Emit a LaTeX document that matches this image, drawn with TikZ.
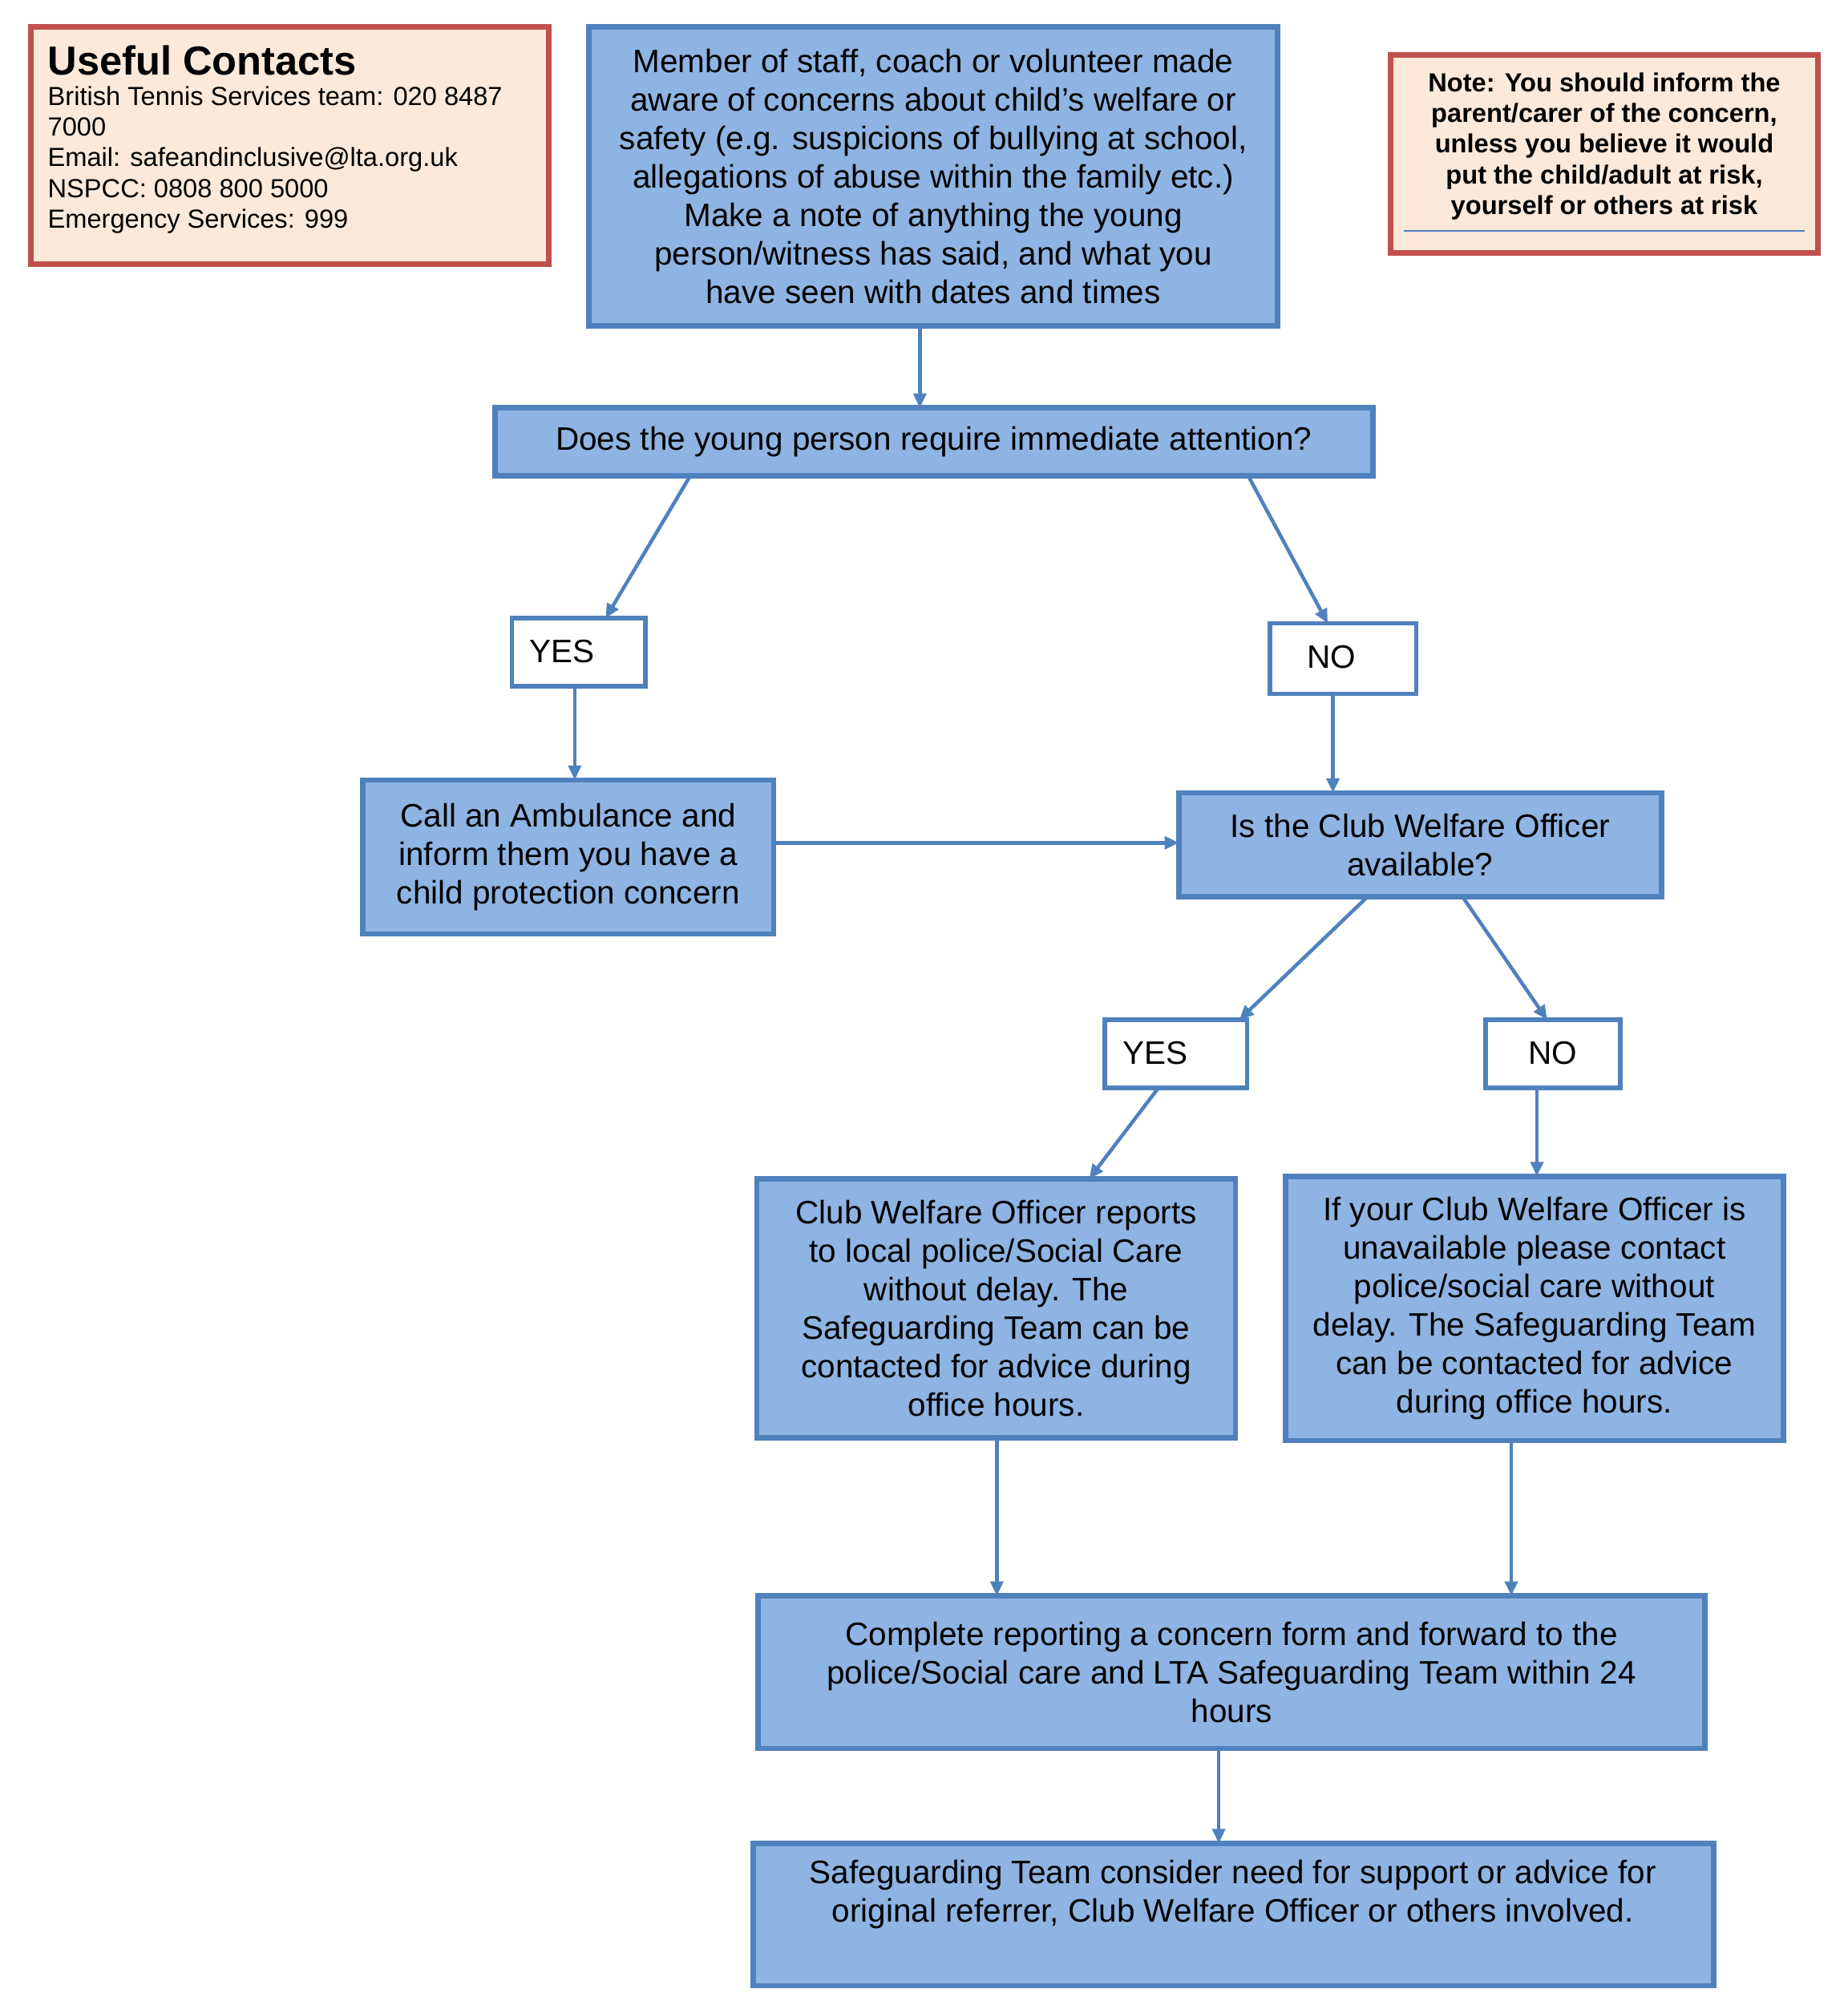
\documentclass[tikz,border=0pt]{standalone}
\usepackage{fontspec}
\setmainfont{Liberation Sans}
\usetikzlibrary{arrows.meta}
\definecolor{bfill}{HTML}{8EB4E3}
\definecolor{bline}{HTML}{4F81BD}
\definecolor{pfill}{HTML}{FDE9D9}
\definecolor{rline}{HTML}{C0504D}
\begin{document}
\begin{tikzpicture}[x=0.025cm,y=0.025cm,
 box/.style={draw=bline,fill=bfill,line width=3pt,align=center,inner sep=0pt,
   font=\fontsize{18}{21.3}\selectfont},
 lab/.style={draw=bline,fill=white,line width=2.5pt,inner sep=0pt,
   font=\fontsize{18}{21.3}\selectfont},
 arr/.style={draw=bline,line width=2pt,-{Triangle[length=8pt,width=7pt]}}]
\useasboundingbox (0,0) rectangle (1440,-1563);
\newcommand{\bx}[7]{\node[#1,minimum width={(#4-#3)*0.025cm},minimum height={(#6-#5)*0.025cm}] (#2) at ({(#3+#4)/2},{-(#5+#6)/2}) {#7};}
% Useful contacts
\node[draw=rline,fill=pfill,line width=3pt,minimum width=404*0.025cm,minimum height=185*0.025cm,inner sep=0pt] (uc) at (226,-113.5) {};
\node[anchor=north west,align=left,inner sep=0pt,font=\fontsize{14.5}{17}\selectfont] (uct) at (37,-35)
 {{\fontsize{22.5}{24}\selectfont\bfseries Useful Contacts}\\British Tennis Services team: 020 8487\\7000\\Email: safeandinclusive@lta.org.uk\\NSPCC: 0808 800 5000\\Emergency Services: 999};
% Note
\node[draw=rline,fill=pfill,line width=3pt,minimum width=333*0.025cm,minimum height=154*0.025cm,inner sep=0pt] (note) at (1250.5,-120) {};
\node[align=center,inner sep=0pt,font=\fontsize{14.5}{17}\selectfont\bfseries] (notet) at (1250.5,-114)
 {Note: You should inform the\\parent/carer of the concern,\\unless you believe it would\\put the child/adult at risk,\\yourself or others at risk};
\coordinate (ul1) at (1094,-180); \coordinate (ul2) at (1407,-180);
\draw[bline,line width=1.2pt] (ul1) -- (ul2);
\bx{box}{top}{459}{996}{21}{254}{Member of staff, coach or volunteer made\\aware of concerns about child’s welfare or\\safety (e.g. suspicions of bullying at school,\\allegations of abuse within the family etc.)\\Make a note of anything the young\\person/witness has said, and what you\\have seen with dates and times}
\bx{box}{q1}{386}{1070}{318}{371}{Does the young person require immediate attention?}
\bx{lab}{y1}{399}{503}{482}{535}{}
\node[font=\fontsize{18}{21.3}\selectfont,anchor=west] at (408,-508) {YES};
\bx{lab}{n1}{990}{1104}{486}{541}{}
\node[font=\fontsize{18}{21.3}\selectfont,anchor=west] at (1014,-512) {NO};
\bx{box}{amb}{283}{603}{608}{728}{Call an Ambulance and\\inform them you have a\\child protection concern}
\bx{box}{cwo}{919}{1295}{618}{699}{Is the Club Welfare Officer\\available?}
\bx{lab}{y2}{861}{972}{795}{848}{}
\node[font=\fontsize{18}{21.3}\selectfont,anchor=west] at (870,-821) {YES};
\bx{lab}{n2}{1158}{1263}{795}{848}{}
\node[font=\fontsize{18}{21.3}\selectfont] at (1210.5,-821) {NO};
\bx{box}{rep}{590}{963}{919}{1121}{Club Welfare Officer reports\\to local police/Social Care\\without delay. The\\Safeguarding Team can be\\contacted for advice during\\office hours.}
\bx{box}{ifu}{1002}{1390}{917}{1123}{If your Club Welfare Officer is\\unavailable please contact\\police/social care without\\delay. The Safeguarding Team\\can be contacted for advice\\during office hours.}
\bx{box}{comp}{591}{1329}{1244}{1363}{Complete reporting a concern form and forward to the\\police/Social care and LTA Safeguarding Team within 24\\hours}
\bx{box}{sg}{587}{1336}{1437}{1548}{}
\node[align=center,inner sep=0pt,font=\fontsize{18}{21.3}\selectfont] (sgt) at (961,-1477)
 {Safeguarding Team consider need for support or advice for\\original referrer, Club Welfare Officer or others involved.};
% arrows
\coordinate (a1) at (717,-254); \coordinate (a2) at (717,-318);
\draw[arr] (a1) -- (a2);
\draw[arr] (538,-371) -- (472,-482);
\draw[arr] (973,-371) -- (1035,-486);
\draw[arr] (448,-535) -- (448,-608);
\draw[arr] (1039,-541) -- (1039,-618);
\draw[arr] (603,-657) -- (919,-657);
\draw[arr] (1066,-699) -- (966,-795);
\draw[arr] (1140,-699) -- (1206,-795);
\draw[arr] (903,-848) -- (849,-919);
\draw[arr] (1198,-848) -- (1198,-917);
\draw[arr] (777,-1121) -- (777,-1244);
\draw[arr] (1178,-1123) -- (1178,-1244);
\draw[arr] (950,-1363) -- (950,-1437);
\end{tikzpicture}
\end{document}
